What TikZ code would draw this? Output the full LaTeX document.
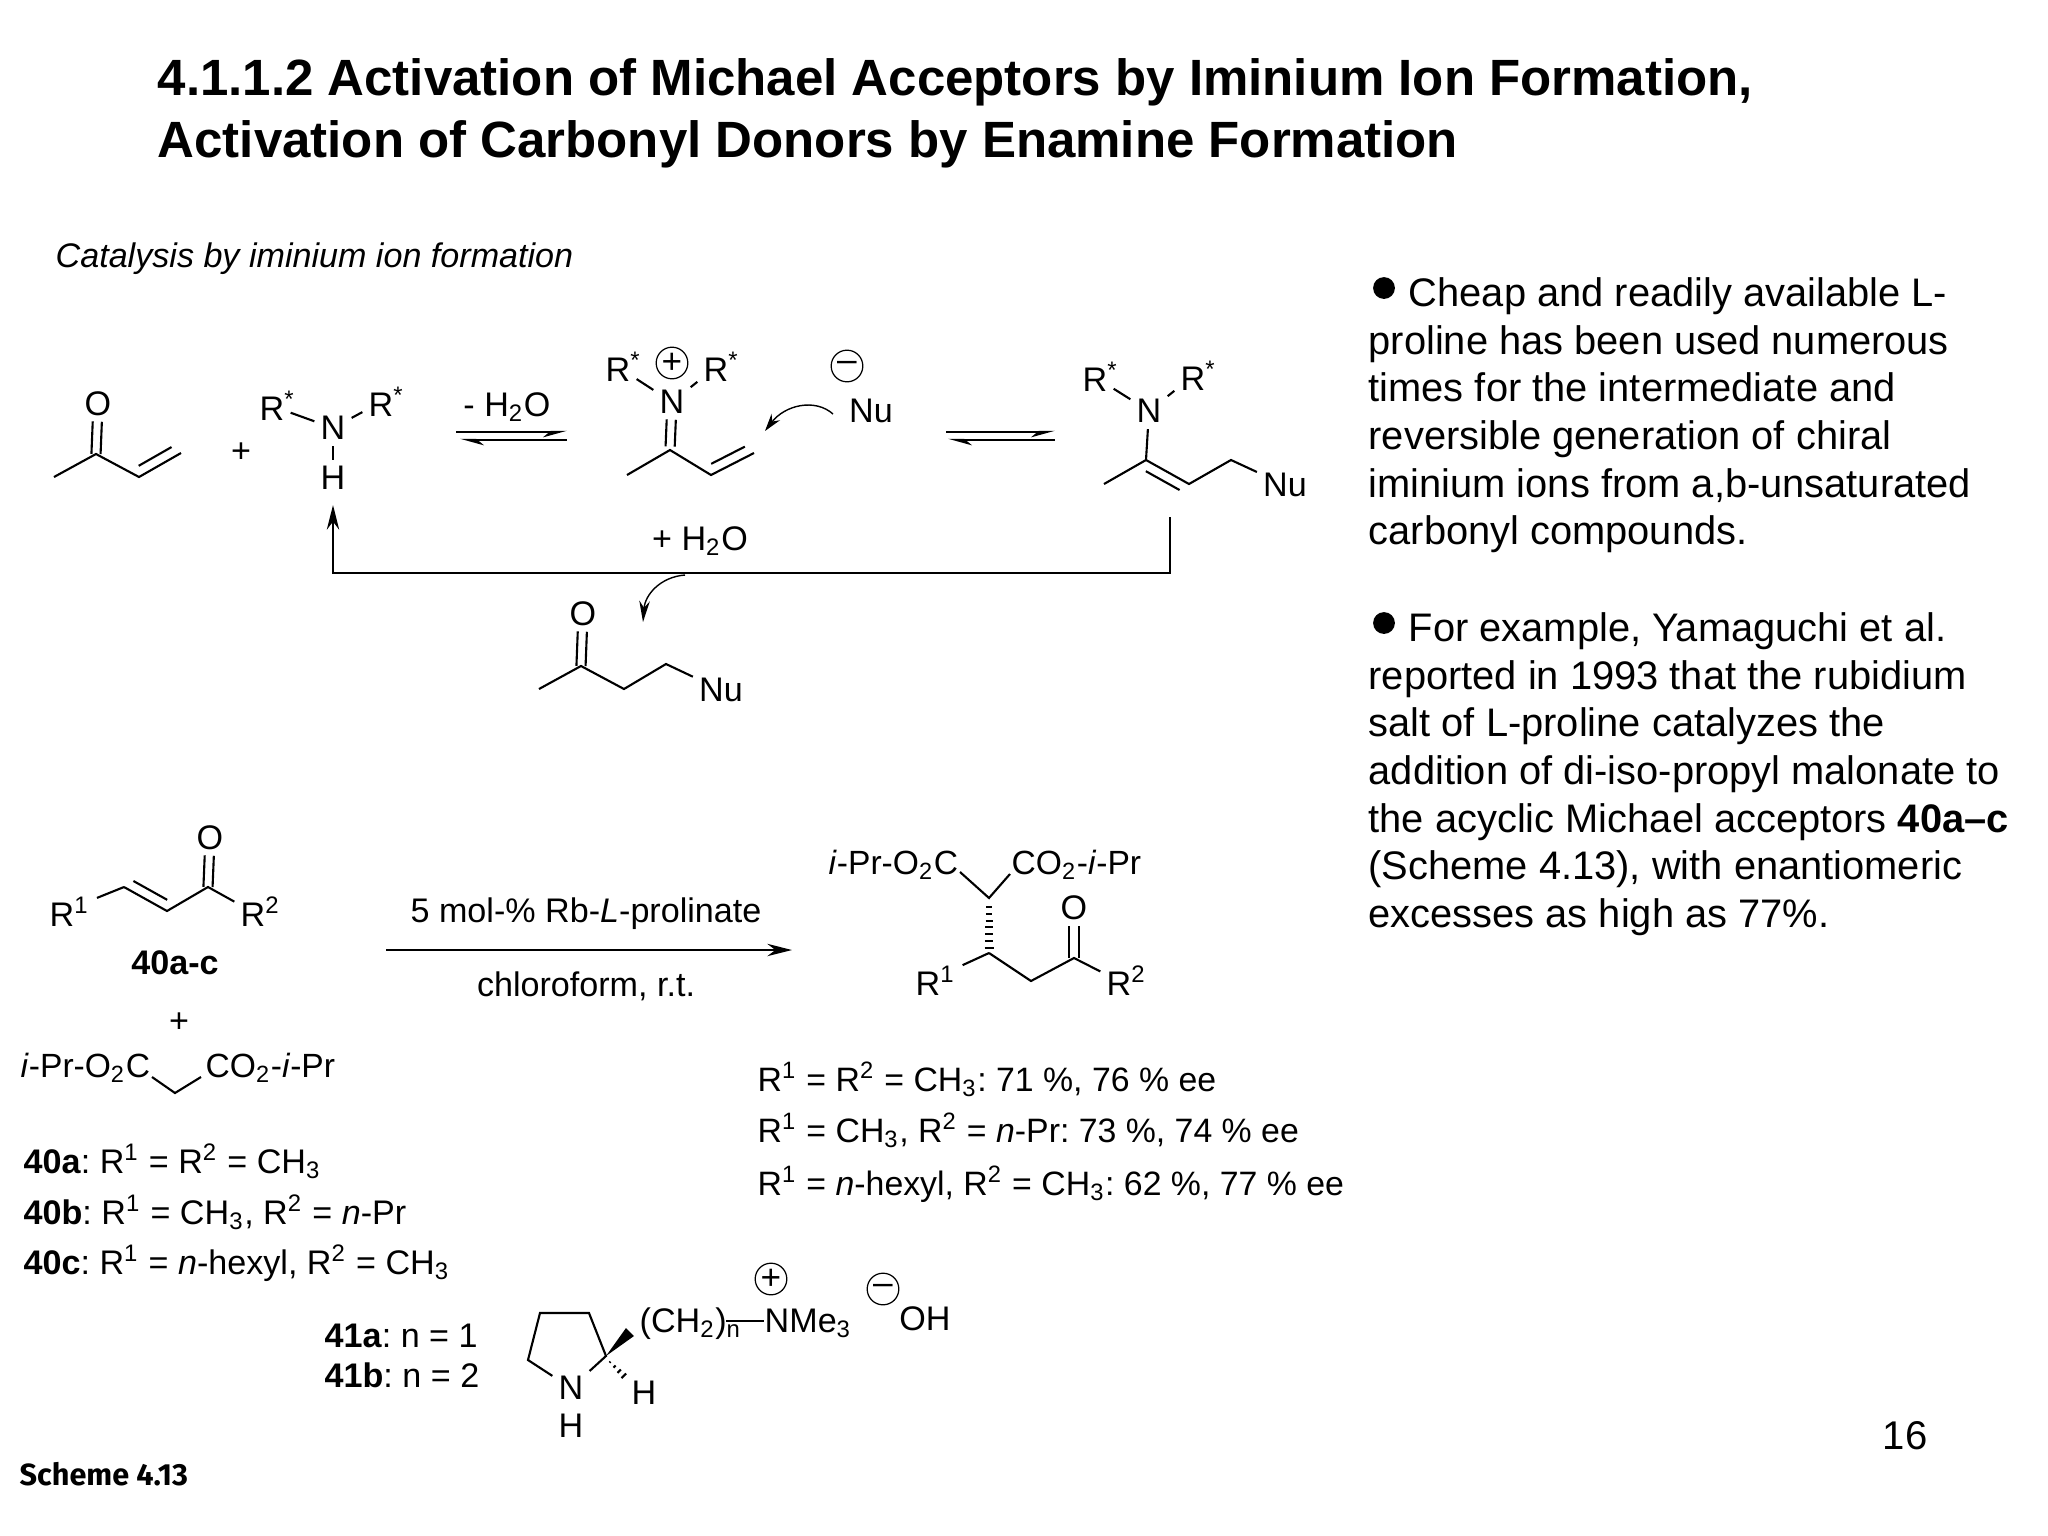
\documentclass[tikz,border=0pt]{standalone}
\usepackage{fontspec}
\setmainfont{Liberation Sans}
\newfontfamily\schemefont{Fira Sans}
\usetikzlibrary{arrows.meta,calc}
\frenchspacing
\tikzset{
  bond/.style={line width=0.6pt},
  rxn/.style={line width=0.7pt},
  atom/.style={font=\fontsize{9.7}{11}\selectfont,inner sep=1.6pt},
  chem/.style={font=\fontsize{9.7}{11}\selectfont,inner sep=0pt,anchor=base west},
  chemc/.style={font=\fontsize{9.7}{11}\selectfont,inner sep=0pt,anchor=base},
  ester/.style={chem,font=\fontsize{9.55}{11}\selectfont},
  yield/.style={chem,font=\fontsize{9.62}{11}\selectfont},
  charge/.style={circle,draw,line width=0.35pt,minimum size=9pt,inner sep=0pt},
  dot/.style={circle,fill,minimum size=6.2pt,inner sep=0pt},
  harpUp/.style={-{Stealth[harpoon,swap,length=5.5pt,width=3pt]}},
  harpDown/.style={{Stealth[harpoon,length=5.5pt,width=3pt]}-}
}
\newcommand{\Rstar}{R\rlap{\textsuperscript{*}}}
\newcommand{\Rone}{R\rlap{\textsuperscript{1}}}
\newcommand{\Rtwo}{R\rlap{\textsuperscript{2}}}
\newcommand{\iPr}{\textit{i}-Pr}
\newcommand{\dbond}[3][]{%
  \draw[bond,#1] ($(#2)!1.3pt!90:(#3)$) -- ($(#3)!1.3pt!-90:(#2)$);
  \draw[bond,#1] ($(#2)!1.3pt!-90:(#3)$) -- ($(#3)!1.3pt!90:(#2)$);}
\newcommand{\ibond}[3]{%
  \draw[bond,shorten <=1.5pt,shorten >=1.5pt] ($(#1)!2.8pt!#3:(#2)$) -- ($(#2)!2.8pt!-#3:(#1)$);}
\newcommand{\equil}[4]{%
  \draw[rxn,harpUp] (#1) -- (#2);
  \draw[rxn,harpDown] (#3) -- (#4);}
\begin{document}
\begin{tikzpicture}[x=0.01cm,y=-0.01cm]
\useasboundingbox (0,0) rectangle (2048,1536);
% Title
\node[anchor=base west,inner sep=0pt,font=\fontsize{14.5}{17.6}\selectfont\bfseries] (title) at (157,95)
  {4.1.1.2 Activation of Michael Acceptors by Iminium Ion Formation,};
\node[anchor=base west,inner sep=0pt,font=\fontsize{14.5}{17.6}\selectfont\bfseries] (title2) at (157,157)
  {Activation of Carbonyl Donors by Enamine Formation};
\node[chem,font=\fontsize{9.7}{11}\selectfont\itshape] (cathead) at (55,267) {Catalysis by iminium ion formation};

% Enone
\coordinate (aMe) at (54,477);
\coordinate (aC) at (96,454);
\coordinate (aCH) at (139,477);
\coordinate (aCH2) at (181,453);
\node[atom] (aO) at (98,404) {O};
\draw[bond] (aMe) -- (aC) -- (aCH) -- (aCH2);
\dbond[shorten >=5pt]{aC}{aO}
\ibond{aCH}{aCH2}{90}
\node[atom] (plusA) at (241,453) {+};

% Amine
\node[atom] (bN) at (333,428) {N};
\node[atom] (bRl) at (272,406) {\Rstar};
\node[atom] (bRr) at (381,402) {\Rstar};
\node[atom] (bH) at (333,478) {H};
\draw[bond] (bRl) -- (bN);
\draw[bond] (bN) -- (bRr);
\draw[bond] (bN) -- (bH);

% First equilibrium
\node[chemc] (minusW) at (507,416) {- H\textsubscript{2}O};
\coordinate (eqAa) at (456,432);
\coordinate (eqAb) at (567,432);
\coordinate (eqAc) at (460,440);
\coordinate (eqAd) at (567,440);
\equil{eqAa}{eqAb}{eqAc}{eqAd}

% Iminium ion
\node[atom] (cN) at (672,402) {N};
\node[atom] (cRl) at (618,367) {\Rstar};
\node[atom] (cRr) at (716,367) {\Rstar};
\node[charge] (cPlus) at (672,363) {+};
\coordinate (cC) at (670,450);
\coordinate (cMe) at (627,475);
\coordinate (cCH) at (711,475);
\coordinate (cCH2) at (754,453);
\draw[bond] (cRl) -- (cN);
\draw[bond] (cN) -- (cRr);
\dbond[shorten >=5pt,shorten <=1pt]{cC}{cN}
\draw[bond] (cMe) -- (cC) -- (cCH) -- (cCH2);
\ibond{cCH}{cCH2}{90}
\node[charge] (nuMinus) at (847,366) {--};
\node[atom] (nuA) at (871,411) {Nu};
\coordinate (curlAs) at (833,414);
\coordinate (curlAe) at (765,431);
\draw[line width=0.4pt,-{Stealth[length=5pt,width=3pt]}] (curlAs) .. controls (815,398) and (785,405) .. (curlAe);

% Second equilibrium
\coordinate (eqBa) at (946,432);
\coordinate (eqBb) at (1055,432);
\coordinate (eqBc) at (948,440);
\coordinate (eqBd) at (1055,440);
\equil{eqBa}{eqBb}{eqBc}{eqBd}

% Enamine
\node[atom] (dN) at (1149,411) {N};
\node[atom] (dRl) at (1095,377) {\Rstar};
\node[atom] (dRr) at (1193,376) {\Rstar};
\coordinate (dC) at (1146,460);
\coordinate (dMe) at (1104,484);
\coordinate (dCH) at (1189,484);
\coordinate (dCH2) at (1231,460);
\node[atom] (dNu) at (1285,485) {Nu};
\draw[bond] (dRl) -- (dN);
\draw[bond] (dN) -- (dRr);
\draw[bond] (dN) -- (dC);
\draw[bond] (dMe) -- (dC) -- (dCH) -- (dCH2) -- (dNu);
\ibond{dC}{dCH}{-90}

% Return line and hydrolysis
\coordinate (retS) at (1170,517);
\coordinate (retR) at (1170,573);
\coordinate (retL) at (333,573);
\coordinate (retE) at (333,505);
\draw[rxn,-{Stealth[length=7pt,width=3.5pt]}] (retS) -- (retR) -- (retL) -- (retE);
\node[chemc] (plusW) at (700,550) {+ H\textsubscript{2}O};
\coordinate (curlBs) at (685,575);
\coordinate (curlBe) at (643,622);
\draw[line width=0.4pt,-{Stealth[length=6pt,width=3pt]}] (curlBs) .. controls (660,577) and (645,595) .. (curlBe);

% Adduct
\node[atom] (eO) at (583,614) {O};
\coordinate (eC) at (581,666);
\coordinate (eMe) at (539,689);
\coordinate (eCa) at (624,689);
\coordinate (eCb) at (666,664);
\node[atom] (eNu) at (721,690) {Nu};
\dbond[shorten >=5pt]{eC}{eO}
\draw[bond] (eMe) -- (eC) -- (eCa) -- (eCb) -- (eNu);

% Scheme, substrate
\node[atom] (fRa) at (62,912) {\Rone};
\node[atom] (fRb) at (253,912) {\Rtwo};
\node[atom] (fO) at (210,838) {O};
\coordinate (fCa) at (124,887);
\coordinate (fCb) at (167,911);
\coordinate (fC) at (208,887);
\draw[bond,shorten <=5pt] (fRa) -- (fCa);
\draw[bond] (fCa) -- (fCb) -- (fC) -- (fRb);
\ibond{fCa}{fCb}{90}
\dbond[shorten >=5pt]{fC}{fO}
\node[chemc,font=\fontsize{9.7}{11}\selectfont\bfseries] (ttA) at (175,974) {40a-c};
\node[atom] (plusB) at (179,1023) {+};

% Malonate
\node[ester] (gL) at (20,1077) {\iPr-O\textsubscript{2}C};
\node[ester] (gR) at (205,1077) {CO\textsubscript{2}-\iPr};
\coordinate (gCl) at (152,1077);
\coordinate (gC) at (175,1093);
\coordinate (gCr) at (201,1077);
\draw[bond] (gCl) -- (gC) -- (gCr);

% Reaction arrow
\node[chemc] (condA) at (586,922) {5 mol-\% Rb-\textit{L}-prolinate};
\node[chemc] (condB) at (586,996) {chloroform, r.t.};
\coordinate (arrS) at (386,950);
\coordinate (arrE) at (792,950);
\draw[rxn,-{Stealth[length=7pt,width=3.5pt]}] (arrS) -- (arrE);

% Product
\node[ester] (hL) at (828,874) {\iPr-O\textsubscript{2}C};
\node[ester] (hR) at (1011,874) {CO\textsubscript{2}-\iPr};
\coordinate (hCl) at (960,872);
\coordinate (hC) at (989,898);
\coordinate (hCr) at (1010,874);
\coordinate (hD) at (989,953);
\coordinate (hCa) at (1031,981);
\coordinate (hCb) at (1074,958);
\node[atom] (hRa) at (928,981) {\Rone};
\node[atom] (hRb) at (1119,981) {\Rtwo};
\node[atom] (hO) at (1074,908) {O};
\draw[bond] (hCl) -- (hC) -- (hCr);
\draw[bond,shorten <=5pt] (hRa) -- (hD);
\draw[bond] (hD) -- (hCa) -- (hCb) -- (hRb);
\dbond[shorten >=5pt]{hCb}{hO}
\foreach \i in {0,...,6}
  \draw[line width=0.55pt] ($(hC)+({-3-0.25*\i},{9+6.8*\i})$) -- ($(hC)+({3+0.25*\i},{9+6.8*\i})$);

% Yields
\node[yield] (resA) at (757,1091) {R\textsuperscript{1} = R\textsuperscript{2} = CH\textsubscript{3}: 71 \%, 76 \% ee};
\node[yield] (resB) at (757,1142) {R\textsuperscript{1} = CH\textsubscript{3}, R\textsuperscript{2} = \textit{n}-Pr: 73 \%, 74 \% ee};
\node[yield] (resC) at (757,1195) {R\textsuperscript{1} = \textit{n}-hexyl, R\textsuperscript{2} = CH\textsubscript{3}: 62 \%, 77 \% ee};

% Substituents
\node[chem] (subA) at (23,1173) {\textbf{40a}: R\textsuperscript{1} = R\textsuperscript{2} = CH\textsubscript{3}};
\node[chem] (subB) at (23,1224) {\textbf{40b}: R\textsuperscript{1} = CH\textsubscript{3}, R\textsuperscript{2} = \textit{n}-Pr};
\node[chem] (subC) at (23,1274) {\textbf{40c}: R\textsuperscript{1} = \textit{n}-hexyl, R\textsuperscript{2} = CH\textsubscript{3}};
\node[chem] (catA) at (324,1347) {\textbf{41a}: n = 1};
\node[chem] (catB) at (324,1387) {\textbf{41b}: n = 2};

% Pyrrolidine catalyst
\node[atom] (pN) at (571,1388) {N};
\node[atom] (pH) at (571,1426) {H};
\node[atom] (pHb) at (644,1393) {H};
\coordinate (pA) at (528,1360);
\coordinate (pB) at (540,1313);
\coordinate (pC) at (589,1313);
\coordinate (pD) at (606,1356);
\coordinate (pWa) at (634,1336);
\coordinate (pWb) at (626,1328);
\draw[bond] (pN) -- (pA) -- (pB) -- (pC) -- (pD) -- (pN);
\fill (pD) -- (pWa) -- (pWb) -- cycle;
\foreach \i in {0,...,3}
  \draw[bond] ($(pD)+({4+4.6*\i-0.5-0.6*\i},{6+4.6*\i+0.5+0.6*\i})$) -- ($(pD)+({4+4.6*\i+0.5+0.6*\i},{6+4.6*\i-0.5-0.6*\i})$);
\node[chem] (pChain) at (639,1332) {(CH\textsubscript{2})\textsubscript{n}};
\node[chem] (pMe) at (764,1332) {NMe\textsubscript{3}};
\coordinate (pLink) at (726,1321);
\draw[bond] (pLink) -- (pLink -| pMe.west);
\node[charge] (pPlus) at (771,1279) {+};
\node[charge] (pMinus) at (883,1289) {--};
\node[atom] (pOH) at (925,1319) {OH};

\node[chem,font=\fontsize{8.7}{10}\selectfont\schemefont\bfseries] (schemeLab) at (19,1485) {Scheme 4.13};
\node[font=\fontsize{11.4}{13.55}\selectfont,inner sep=0pt] (pageNo) at (1905,1436) {16};

% Right column
\node[dot] (dotA) at (1384,288) {};
\node[anchor=north west,inner sep=0pt,align=left,font=\fontsize{11.33}{13.55}\selectfont] (paraA) at (1368,277)
  {\hspace*{11.4pt}Cheap and readily available L-\\
   proline has been used numerous\\
   times for the intermediate and\\
   reversible generation of chiral\\
   iminium ions from a,b-unsaturated\\
   carbonyl compounds.};
\node[dot] (dotB) at (1384,623) {};
\node[anchor=north west,inner sep=0pt,align=left,font=\fontsize{11.33}{13.55}\selectfont] (paraB) at (1368,612)
  {\hspace*{11.4pt}For example, Yamaguchi et al.\\
   reported in 1993 that the rubidium\\
   salt of L-proline catalyzes the\\
   addition of di-iso-propyl malonate to\\
   the acyclic Michael acceptors \textbf{40a--c}\\
   (Scheme 4.13), with enantiomeric\\
   excesses as high as 77\%.};
\end{tikzpicture}
\end{document}
